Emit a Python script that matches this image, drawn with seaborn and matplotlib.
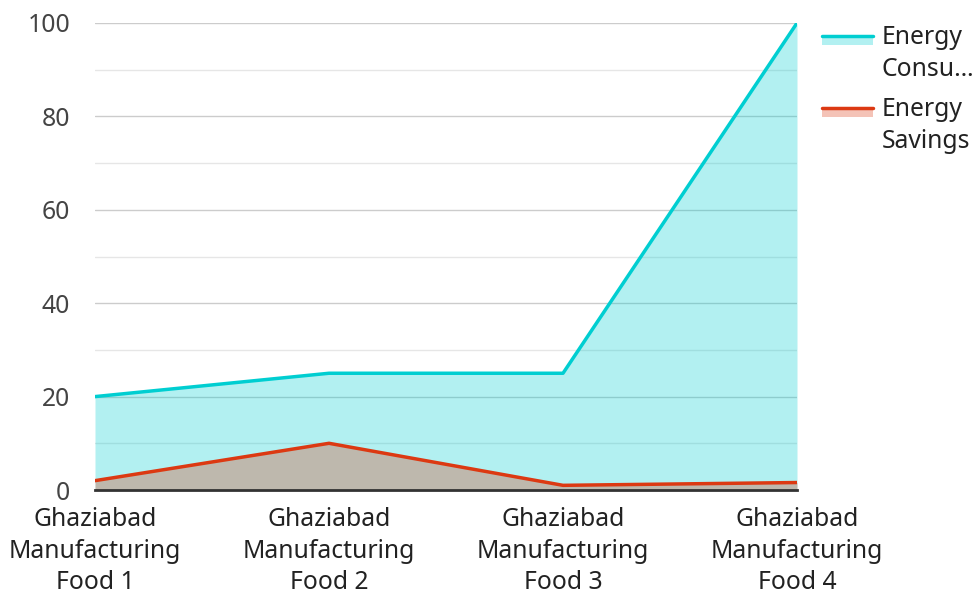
import numpy as np
import pandas as pd
import matplotlib
matplotlib.use('Agg')
import matplotlib.pyplot as plt
import seaborn as sns
from matplotlib.legend_handler import HandlerBase
from matplotlib.patches import Rectangle
from matplotlib.lines import Line2D

# Data
categories = ['Ghaziabad\nManufacturing\nFood 1', 'Ghaziabad\nManufacturing\nFood 2',
              'Ghaziabad\nManufacturing\nFood 3', 'Ghaziabad\nManufacturing\nFood 4']
consumption = [20, 25, 25, 100]
savings = [2, 10, 1, 1.6]
series_names = ['Energy\nConsu…', 'Energy\nSavings']

cyan = '#00CED1'
red = '#DC3912'

df = pd.DataFrame({'pos': np.arange(len(categories)),
                   'consumption': consumption, 'savings': savings})

sns.set_style('white')
plt.rcParams['font.family'] = ['Noto Sans', 'DejaVu Sans']
fs = 17.8

fig = plt.figure(figsize=(9.76, 5.94), dpi=100)
ax = fig.add_axes([95 / 976, 1 - 490 / 594, (797 - 95) / 976, (490 - 23) / 594])

# Areas
ax.fill_between(df['pos'], df['consumption'], color=cyan, alpha=0.3, lw=0, zorder=2)
ax.fill_between(df['pos'], df['savings'], color=red, alpha=0.3, lw=0, zorder=3)
sns.lineplot(data=df, x='pos', y='consumption', color=cyan, lw=2.5, ax=ax, zorder=4)
sns.lineplot(data=df, x='pos', y='savings', color=red, lw=2.5, ax=ax, zorder=5)

# Axes
ax.set_xlim(0, 3)
ax.set_ylim(0, 100)
ax.set_xticks(df['pos'])
ax.set_xticklabels(categories, fontsize=fs, color='#222222', linespacing=1.36)
ax.set_yticks(range(0, 101, 20))
ax.set_yticks(range(10, 100, 20), minor=True)
ax.tick_params(axis='y', labelsize=fs, labelcolor='#444444', length=0, pad=18)
ax.tick_params(axis='x', length=0, pad=12)
ax.tick_params(which='minor', length=0)
ax.grid(True, which='major', axis='y', color='#cccccc', lw=1)
ax.grid(True, which='minor', axis='y', color='#e6e6e6', lw=1)
ax.set_axisbelow(True)
ax.set_xlabel('')
ax.set_ylabel('')
for s in ['top', 'right', 'left']:
    ax.spines[s].set_visible(False)
ax.spines['bottom'].set_color('#333333')
ax.spines['bottom'].set_linewidth(2)
ax.spines['bottom'].set_zorder(6)


class LineOverPatch(HandlerBase):
    def __init__(self, color, **kw):
        super().__init__(**kw)
        self.color = color

    def create_artists(self, legend, orig_handle, xdescent, ydescent, width, height, fontsize, trans):
        cy = -ydescent + height / 2
        top = cy + 13.5
        rect = Rectangle((-xdescent, top - 7), width, 7,
                         facecolor=self.color, alpha=0.3, lw=0, transform=trans)
        line = Line2D([-xdescent, -xdescent + width], [top, top],
                      color=self.color, lw=2.5, transform=trans)
        return [rect, line]


h1 = Rectangle((0, 0), 1, 1)
h2 = Rectangle((0, 0), 1, 1)
leg = fig.legend([h1, h2], series_names, loc='upper left', bbox_to_anchor=(822 / 976, 1 - 25 / 594),
                 frameon=False, fontsize=fs, handlelength=2.05, handleheight=0.8,
                 handletextpad=0.37, labelspacing=0.62, borderpad=0, borderaxespad=0,
                 handler_map={h1: LineOverPatch(cyan), h2: LineOverPatch(red)})
for t in leg.get_texts():
    t.set_color('#222222')
    t.set_linespacing(1.36)

fig.savefig('out.png', dpi=100)
